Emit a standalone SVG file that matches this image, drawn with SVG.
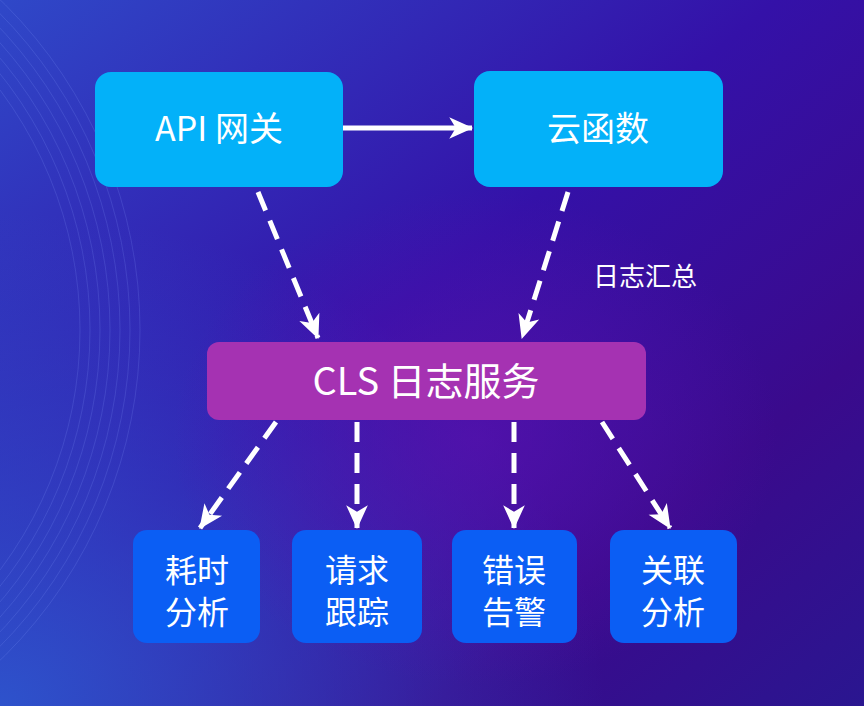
<svg xmlns="http://www.w3.org/2000/svg" width="864" height="706" viewBox="0 0 864 706">
<defs>
<linearGradient id="bg" x1="0" y1="0" x2="1" y2="1">
<stop offset="0" stop-color="#2f48c8"/>
<stop offset="0.45" stop-color="#3411a8"/>
<stop offset="0.75" stop-color="#3a0a8c"/>
<stop offset="1" stop-color="#2a1690"/>
</linearGradient>
<radialGradient id="bl" cx="0" cy="1" r="0.7">
<stop offset="0" stop-color="#2d5ad0" stop-opacity="0.9"/>
<stop offset="1" stop-color="#2d5ad0" stop-opacity="0"/>
</radialGradient>
<radialGradient id="pm" cx="0.55" cy="0.62" r="0.35">
<stop offset="0" stop-color="#5a12b0" stop-opacity="0.7"/>
<stop offset="1" stop-color="#5a12b0" stop-opacity="0"/>
</radialGradient>
<marker id="ah" viewBox="0 0 24 24" refX="22" refY="12" markerWidth="26" markerHeight="26" markerUnits="userSpaceOnUse" orient="auto">
<path d="M1,2 L23,12 L1,22 L7,12 Z" fill="#fff"/>
</marker>
</defs>
<style>
.top{fill:#03b1f9}
.cls{fill:#a532b2}
.bot{fill:#0b5ef4}
text{font-family:"Noto Sans CJK SC","Noto Sans",sans-serif;fill:#fff;text-anchor:middle}
.dash{stroke:#fff;stroke-width:5;stroke-dasharray:20 11;fill:none}
</style>
<rect width="864" height="706" fill="url(#bg)"/>
<rect width="864" height="706" fill="url(#bl)"/>
<rect width="864" height="706" fill="url(#pm)"/>
<g fill="none" stroke="#8aa0ff" stroke-opacity="0.18" stroke-width="1">
<circle cx="-320" cy="330" r="400"/>
<circle cx="-320" cy="330" r="410"/>
<circle cx="-320" cy="330" r="420"/>
<circle cx="-320" cy="330" r="430"/>
<circle cx="-320" cy="330" r="440"/>
<circle cx="-320" cy="330" r="450"/>
<circle cx="-320" cy="330" r="460"/>
</g>
<g id="connectors">
<line x1="343" y1="128" x2="472" y2="128" stroke="#fff" stroke-width="5" marker-end="url(#ah)"/>
<line class="dash" x1="258" y1="192" x2="318" y2="338" marker-end="url(#ah)"/>
<line class="dash" x1="568" y1="192" x2="522" y2="338" marker-end="url(#ah)"/>
<line class="dash" x1="276" y1="422" x2="200" y2="528" marker-end="url(#ah)"/>
<line class="dash" x1="357" y1="422" x2="357" y2="528" marker-end="url(#ah)"/>
<line class="dash" x1="514" y1="422" x2="514" y2="528" marker-end="url(#ah)"/>
<line class="dash" x1="602" y1="422" x2="670" y2="528" marker-end="url(#ah)"/>
<text x="645" y="286" font-size="26">日志汇总</text>
</g>
<g id="api">
<rect class="top" x="95" y="72" width="248" height="115" rx="16"/>
<text x="219" y="141" font-size="34">API 网关</text>
</g>
<g id="scf">
<rect class="top" x="474" y="71" width="249" height="116" rx="16"/>
<text x="598" y="141" font-size="34">云函数</text>
</g>
<g id="cls">
<rect class="cls" x="207" y="342" width="439" height="78" rx="12"/>
<text x="426" y="395" font-size="38">CLS 日志服务</text>
</g>
<g id="n1">
<rect class="bot" x="133" y="530" width="127" height="113" rx="14"/>
<text x="197" y="582" font-size="32">耗时</text>
<text x="197" y="624" font-size="32">分析</text>
</g>
<g id="n2">
<rect class="bot" x="292" y="530" width="130" height="113" rx="14"/>
<text x="357" y="582" font-size="32">请求</text>
<text x="357" y="624" font-size="32">跟踪</text>
</g>
<g id="n3">
<rect class="bot" x="452" y="530" width="125" height="113" rx="14"/>
<text x="514" y="582" font-size="32">错误</text>
<text x="514" y="624" font-size="32">告警</text>
</g>
<g id="n4">
<rect class="bot" x="610" y="530" width="127" height="113" rx="14"/>
<text x="673" y="582" font-size="32">关联</text>
<text x="673" y="624" font-size="32">分析</text>
</g>
</svg>
